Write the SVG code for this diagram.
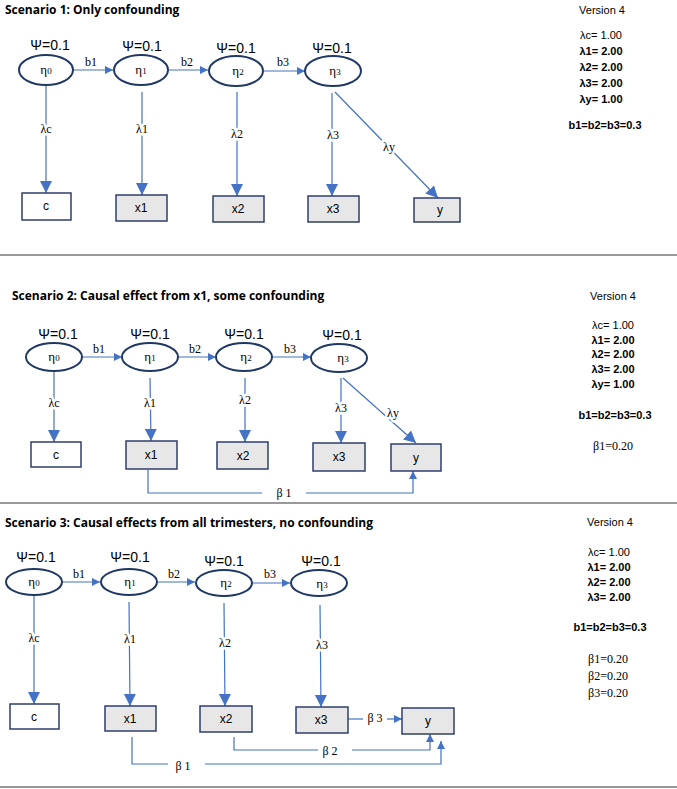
<svg xmlns="http://www.w3.org/2000/svg" width="677" height="789" viewBox="0 0 677 789">
<style>
.t{font-family:"Open Sans","Liberation Sans",sans-serif;font-weight:bold;font-size:12px}
.psi{font-family:"Liberation Sans",sans-serif;font-size:14px;text-anchor:middle}
.eta{font-family:"Liberation Serif",serif;font-size:13px;text-anchor:middle}
.lab{font-family:"Liberation Serif",serif;font-size:12px;text-anchor:middle;stroke:#fff;stroke-width:5;paint-order:stroke;stroke-linejoin:round}
.bx{font-family:"Liberation Sans",sans-serif;font-size:12px;text-anchor:middle}
.r{font-family:"Liberation Sans",sans-serif;font-size:11px;text-anchor:middle}
.rb{font-family:"Liberation Sans",sans-serif;font-size:11px;font-weight:bold;text-anchor:middle}
.rs{font-family:"Liberation Serif",serif;font-size:12px;text-anchor:middle}
ellipse{fill:#fff;stroke:#1f3864;stroke-width:2}
.g{fill:#e7e7e7;stroke:#2f3e6b;stroke-width:1.5}
.w{fill:#fff;stroke:#2f3e6b;stroke-width:1.5}
.c line,.c path{stroke:#4472c4;stroke-width:1.2;fill:none}
.a{marker-end:url(#ah)}
.sep{stroke:#777;stroke-width:1.5}
</style>
<defs><marker id="ah" viewBox="0 0 10 10" refX="10" refY="5" markerWidth="8" markerHeight="8" markerUnits="userSpaceOnUse" orient="auto"><path d="M0,0L10,5L0,10z" fill="#4472c4"/></marker>
<marker id="ab" viewBox="0 0 10 10" refX="10" refY="5" markerWidth="12" markerHeight="14" markerUnits="userSpaceOnUse" orient="auto"><path d="M0,0L10,5L0,10z" fill="#4472c4"/></marker></defs>

<!-- Scenario 1 -->
<text class="t" x="5" y="14">Scenario 1: Only confounding</text>
<g class="c">
<line x1="74" y1="70" x2="113" y2="70" class="a"/>
<line x1="169" y1="70" x2="208" y2="70" class="a"/>
<line x1="264" y1="71" x2="305" y2="71" class="a"/>
<line x1="46" y1="85" x2="46" y2="193" marker-end="url(#ab)"/>
<line x1="142" y1="92" x2="142" y2="195" marker-end="url(#ab)"/>
<line x1="237" y1="92" x2="237" y2="196" marker-end="url(#ab)"/>
<line x1="332" y1="93" x2="332" y2="196" marker-end="url(#ab)"/>
<line x1="335" y1="92" x2="438" y2="198" marker-end="url(#ab)"/>
</g>
<g id="s1n0"><text class="psi" x="50" y="50">Ψ=0.1</text><ellipse cx="46" cy="70" rx="27" ry="15"/><text class="eta" x="46" y="74">η<tspan font-size="9">0</tspan></text></g>
<g id="s1n1"><text class="psi" x="142" y="51">Ψ=0.1</text><ellipse cx="141" cy="70" rx="27" ry="15"/><text class="eta" x="141" y="74">η<tspan font-size="9">1</tspan></text></g>
<g id="s1n2"><text class="psi" x="236" y="53">Ψ=0.1</text><ellipse cx="236" cy="71" rx="27" ry="15"/><text class="eta" x="238" y="75">η<tspan font-size="9">2</tspan></text></g>
<g id="s1n3"><text class="psi" x="332" y="53">Ψ=0.1</text><ellipse cx="333" cy="71" rx="28" ry="15"/><text class="eta" x="335" y="75">η<tspan font-size="9">3</tspan></text></g>
<text class="lab" x="91" y="66">b1</text><text class="lab" x="187" y="66">b2</text><text class="lab" x="283" y="66">b3</text>
<text class="lab" x="46" y="133">λc</text><text class="lab" x="142" y="133">λ1</text><text class="lab" x="237" y="138">λ2</text><text class="lab" x="333" y="139">λ3</text><text class="lab" x="389" y="151">λy</text>
<g id="s1c"><rect class="w" x="22" y="193" width="49" height="27"/><text class="bx" x="46" y="210">c</text></g>
<g id="s1x1"><rect class="g" x="116" y="195" width="51" height="26"/><text class="bx" x="141" y="212">x1</text></g>
<g id="s1x2"><rect class="g" x="213" y="196" width="51" height="26"/><text class="bx" x="238" y="213">x2</text></g>
<g id="s1x3"><rect class="g" x="308" y="196" width="51" height="26"/><text class="bx" x="333" y="213">x3</text></g>
<g id="s1y"><rect class="g" x="414" y="198" width="46" height="24"/><text class="bx" x="440" y="214">y</text></g>
<text class="r" x="602" y="14">Version 4</text>
<text class="r" x="601" y="39">λc= 1.00</text><text class="rb" x="601" y="55">λ1= 2.00</text><text class="rb" x="601" y="71">λ2= 2.00</text><text class="rb" x="601" y="87">λ3= 2.00</text><text class="rb" x="601" y="103">λy= 1.00</text>
<text class="rb" x="605" y="129">b1=b2=b3=0.3</text>
<line class="sep" x1="0" y1="255" x2="677" y2="255"/>

<!-- Scenario 2 -->
<text class="t" x="12" y="300">Scenario 2: Causal effect from x1, some confounding</text>
<g class="c">
<line x1="82" y1="357" x2="122" y2="357" class="a"/>
<line x1="178" y1="357" x2="216" y2="357" class="a"/>
<line x1="272" y1="357" x2="311" y2="357" class="a"/>
<line x1="54" y1="370" x2="54" y2="442" marker-end="url(#ab)"/>
<line x1="150" y1="378" x2="151" y2="441" marker-end="url(#ab)"/>
<line x1="245" y1="378" x2="245" y2="442" marker-end="url(#ab)"/>
<line x1="341" y1="378" x2="341" y2="443" marker-end="url(#ab)"/>
<line x1="343" y1="378" x2="416" y2="443" marker-end="url(#ab)"/>
<path d="M148,470V493H262"/><path d="M306,493H413V471" class="a"/>
</g>
<g id="s2n0"><text class="psi" x="58" y="339">Ψ=0.1</text><ellipse cx="54" cy="357" rx="28" ry="14"/><text class="eta" x="54" y="361">η<tspan font-size="9">0</tspan></text></g>
<g id="s2n1"><text class="psi" x="150" y="339">Ψ=0.1</text><ellipse cx="150" cy="357" rx="28" ry="14"/><text class="eta" x="150" y="361">η<tspan font-size="9">1</tspan></text></g>
<g id="s2n2"><text class="psi" x="244" y="339">Ψ=0.1</text><ellipse cx="244" cy="357" rx="28" ry="14"/><text class="eta" x="246" y="361">η<tspan font-size="9">2</tspan></text></g>
<g id="s2n3"><text class="psi" x="342" y="340">Ψ=0.1</text><ellipse cx="339" cy="358" rx="28" ry="14"/><text class="eta" x="343" y="362">η<tspan font-size="9">3</tspan></text></g>
<text class="lab" x="99" y="353">b1</text><text class="lab" x="195" y="353">b2</text><text class="lab" x="290" y="353">b3</text>
<text class="lab" x="54" y="407">λc</text><text class="lab" x="150" y="407">λ1</text><text class="lab" x="245" y="404">λ2</text><text class="lab" x="341" y="412">λ3</text><text class="lab" x="393" y="417">λy</text>
<g id="s2c"><rect class="w" x="31" y="442" width="50" height="25"/><text class="bx" x="56" y="459">c</text></g>
<g id="s2x1"><rect class="g" x="126" y="441" width="51" height="28"/><text class="bx" x="151" y="459">x1</text></g>
<g id="s2x2"><rect class="g" x="217" y="442" width="51" height="27"/><text class="bx" x="243" y="460">x2</text></g>
<g id="s2x3"><rect class="g" x="313" y="443" width="52" height="28"/><text class="bx" x="339" y="461">x3</text></g>
<g id="s2y"><rect class="g" x="391" y="444" width="50" height="27"/><text class="bx" x="416" y="462">y</text></g>
<text class="lab" x="284" y="497">β 1</text>
<text class="r" x="613" y="300">Version 4</text>
<text class="r" x="613" y="329">λc= 1.00</text><text class="rb" x="613" y="344">λ1= 2.00</text><text class="rb" x="613" y="358">λ2= 2.00</text><text class="rb" x="613" y="373">λ3= 2.00</text><text class="rb" x="613" y="388">λy= 1.00</text>
<text class="rb" x="615" y="419">b1=b2=b3=0.3</text>
<text class="rs" x="613" y="450">β1=0.20</text>
<line class="sep" x1="0" y1="503" x2="677" y2="503"/>

<!-- Scenario 3 -->
<text class="t" x="5" y="527">Scenario 3: Causal effects from all trimesters, no confounding</text>
<g class="c">
<line x1="62" y1="582" x2="100" y2="582" class="a"/>
<line x1="157" y1="582" x2="195" y2="582" class="a"/>
<line x1="252" y1="583" x2="290" y2="583" class="a"/>
<line x1="34" y1="596" x2="34" y2="704" marker-end="url(#ab)"/>
<line x1="129" y1="602" x2="130" y2="706" marker-end="url(#ab)"/>
<line x1="224" y1="603" x2="225" y2="706" marker-end="url(#ab)"/>
<line x1="320" y1="605" x2="321" y2="707" marker-end="url(#ab)"/>
<line x1="348" y1="719" x2="363" y2="719"/>
<line x1="387" y1="719" x2="402" y2="719" class="a"/>
<path d="M234,737V750H318"/><path d="M352,750H430V734" class="a"/>
<path d="M132,737V764H168"/><path d="M205,764H441V741" class="a"/>
</g>
<g id="s3n0"><text class="psi" x="36" y="562">Ψ=0.1</text><ellipse cx="34" cy="582" rx="28" ry="13"/><text class="eta" x="34" y="586">η<tspan font-size="9">0</tspan></text></g>
<g id="s3n1"><text class="psi" x="130" y="562">Ψ=0.1</text><ellipse cx="129" cy="582" rx="28" ry="13"/><text class="eta" x="130" y="586">η<tspan font-size="9">1</tspan></text></g>
<g id="s3n2"><text class="psi" x="224" y="566">Ψ=0.1</text><ellipse cx="224" cy="583" rx="28" ry="13"/><text class="eta" x="226" y="587">η<tspan font-size="9">2</tspan></text></g>
<g id="s3n3"><text class="psi" x="321" y="566">Ψ=0.1</text><ellipse cx="319" cy="583" rx="28" ry="13"/><text class="eta" x="322" y="588">η<tspan font-size="9">3</tspan></text></g>
<text class="lab" x="79" y="578">b1</text><text class="lab" x="174" y="578">b2</text><text class="lab" x="270" y="578">b3</text>
<text class="lab" x="34" y="642">λc</text><text class="lab" x="130" y="643">λ1</text><text class="lab" x="225" y="647">λ2</text><text class="lab" x="322" y="649">λ3</text>
<g id="s3c"><rect class="w" x="10" y="704" width="49" height="25"/><text class="bx" x="34" y="721">c</text></g>
<g id="s3x1"><rect class="g" x="105" y="706" width="51" height="25"/><text class="bx" x="130" y="723">x1</text></g>
<g id="s3x2"><rect class="g" x="200" y="706" width="52" height="26"/><text class="bx" x="226" y="723">x2</text></g>
<g id="s3x3"><rect class="g" x="296" y="707" width="52" height="26"/><text class="bx" x="321" y="724">x3</text></g>
<g id="s3y"><rect class="g" x="402" y="708" width="52" height="26"/><text class="bx" x="428" y="725">y</text></g>
<text class="lab" x="375" y="722">β 3</text><text class="lab" x="330" y="755">β 2</text><text class="lab" x="183" y="770">β 1</text>
<text class="r" x="610" y="526">Version 4</text>
<text class="r" x="609" y="556">λc= 1.00</text><text class="rb" x="609" y="571">λ1= 2.00</text><text class="rb" x="609" y="586">λ2= 2.00</text><text class="rb" x="609" y="601">λ3= 2.00</text>
<text class="rb" x="610" y="631">b1=b2=b3=0.3</text>
<text class="rs" x="608" y="663">β1=0.20</text><text class="rs" x="608" y="680">β2=0.20</text><text class="rs" x="608" y="697">β3=0.20</text>
<line class="sep" x1="0" y1="787" x2="677" y2="787"/>
</svg>
